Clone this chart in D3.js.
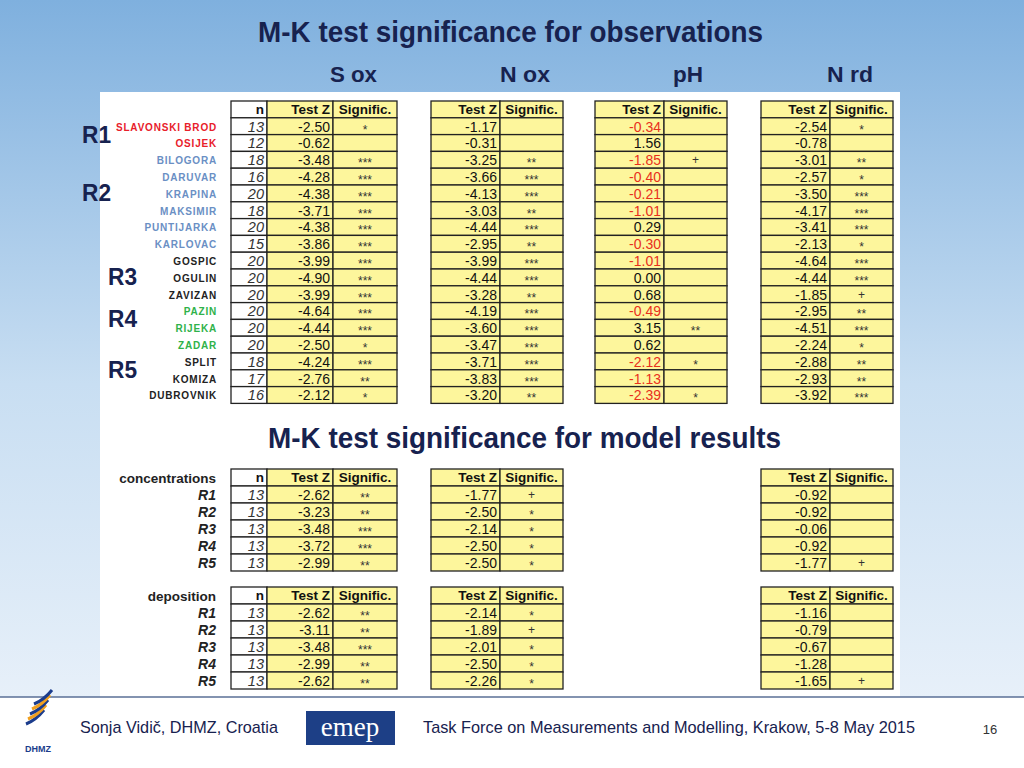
<!DOCTYPE html>
<html><head><meta charset="utf-8">
<script src="https://cdn.jsdelivr.net/npm/d3@7"></script>
<style>body{margin:0;overflow:hidden}</style>
</head><body><div id="vis"></div>
<script>
const stations = ["SLAVONSKI BROD","OSIJEK","BILOGORA","DARUVAR","KRAPINA","MAKSIMIR","PUNTIJARKA","KARLOVAC","GOSPIC","OGULIN","ZAVIZAN","PAZIN","RIJEKA","ZADAR","SPLIT","KOMIZA","DUBROVNIK"];
const stationColor = ["#e8202a","#e8202a","#6a8fc4","#6a8fc4","#6a8fc4","#6a8fc4","#6a8fc4","#6a8fc4","#222","#222","#222","#2fb24a","#2fb24a","#2fb24a","#222","#222","#222"];
const obsN = [13,12,18,16,20,18,20,15,20,20,20,20,20,20,18,17,16];
const soxZ = ["-2.50","-0.62","-3.48","-4.28","-4.38","-3.71","-4.38","-3.86","-3.99","-4.90","-3.99","-4.64","-4.44","-2.50","-4.24","-2.76","-2.12"];
const soxS = ["*","","***","***","***","***","***","***","***","***","***","***","***","*","***","**","*"];
const noxZ = ["-1.17","-0.31","-3.25","-3.66","-4.13","-3.03","-4.44","-2.95","-3.99","-4.44","-3.28","-4.19","-3.60","-3.47","-3.71","-3.83","-3.20"];
const noxS = ["","","**","***","***","**","***","**","***","***","**","***","***","***","***","***","**"];
const phZ = ["-0.34","1.56","-1.85","-0.40","-0.21","-1.01","0.29","-0.30","-1.01","0.00","0.68","-0.49","3.15","0.62","-2.12","-1.13","-2.39"];
const phS = ["","","+","","","","","","","","","","**","","*","","*"];
const nrdZ = ["-2.54","-0.78","-3.01","-2.57","-3.50","-4.17","-3.41","-2.13","-4.64","-4.44","-1.85","-2.95","-4.51","-2.24","-2.88","-2.93","-3.92"];
const nrdS = ["*","","**","*","***","***","***","*","***","***","+","**","***","*","**","**","***"];
const regionLabels = [["R1",0.5],["R2",4],["R3",9],["R4",11.5],["R5",14.5]];

const modelRegions = ["R1","R2","R3","R4","R5"];
const modelN = [13,13,13,13,13];
const concSoxZ = ["-2.62","-3.23","-3.48","-3.72","-2.99"], concSoxS = ["**","**","***","***","**"];
const concNoxZ = ["-1.77","-2.50","-2.14","-2.50","-2.50"], concNoxS = ["+","*","*","*","*"];
const concNrdZ = ["-0.92","-0.92","-0.06","-0.92","-1.77"], concNrdS = ["","","","","+"];
const depSoxZ = ["-2.62","-3.11","-3.48","-2.99","-2.62"], depSoxS = ["**","**","***","**","**"];
const depNoxZ = ["-2.14","-1.89","-2.01","-2.50","-2.26"], depNoxS = ["*","+","*","*","*"];
const depNrdZ = ["-1.16","-0.79","-0.67","-1.28","-1.65"], depNrdS = ["","","","","+"];
const componentNames = ["S ox","N ox","pH","N rd"];

const W = 1024, H = 768;
const navy = "#17224f";
const svg = d3.select("#vis").append("svg").attr("width", W).attr("height", H)
  .style("font-family", "Arial, 'Liberation Sans', sans-serif");

// background sky
const defs = svg.append("defs");
const g1 = defs.append("linearGradient").attr("id","sky").attr("x1",0).attr("y1",0).attr("x2",0).attr("y2",1);
g1.append("stop").attr("offset","0").attr("stop-color","#7fb0de");
g1.append("stop").attr("offset","0.5").attr("stop-color","#c8def2");
g1.append("stop").attr("offset","1").attr("stop-color","#eef4fb");
svg.append("rect").attr("width",W).attr("height",H).attr("fill","url(#sky)");
svg.append("rect").attr("x",100).attr("y",92).attr("width",800).attr("height",605).attr("fill","#fff");
svg.append("rect").attr("x",0).attr("y",697).attr("width",W).attr("height",71).attr("fill","#fff");
svg.append("line").attr("x1",0).attr("x2",W).attr("y1",697).attr("y2",697).attr("stroke","#5a6f96").attr("stroke-width",1.5);

function title(x, y, size, len, txt) {
  svg.append("text").attr("x",x).attr("y",y).attr("font-size",size).attr("font-weight","bold")
    .attr("fill",navy).attr("textLength",len).attr("lengthAdjust","spacingAndGlyphs").text(txt);
}
title(258, 42, 29, 505, "M-K test significance for observations");
title(268, 448, 29, 513, "M-K test significance for model results");
const compX = [330,500,673,827], compW = [47,50,30,46];
componentNames.forEach((c,i) => title(compX[i], 82, 22, compW[i], c));

const yellow = "#fdf69c";
function table(x0, yHead, rowH, zs, ss, ns, zColors) {
  const rows = d3.range(zs.length);
  const y = d3.scaleBand().domain(rows).range([yHead + rowH, yHead + rowH * (zs.length + 1)]);
  const g = svg.append("g");
  const cols = ns ? [[x0,36],[x0+36,66],[x0+102,64]] : [[x0,69],[x0+69,63]];
  const zc = ns ? 1 : 0;
  const hdr = ns ? ["n","Test Z","Signific."] : ["Test Z","Signific."];
  cols.forEach((c,i) => {
    const white = ns && i === 0;
    g.append("rect").attr("x",c[0]).attr("y",yHead).attr("width",c[1]).attr("height",rowH)
      .attr("fill", white ? "#fff" : yellow).attr("stroke","#222").attr("stroke-width",1.3);
    g.append("text").attr("x", i === cols.length-1 ? c[0]+c[1]/2 : c[0]+c[1]-3).attr("y",yHead+rowH-4)
      .attr("text-anchor", i === cols.length-1 ? "middle" : "end")
      .attr("font-size",13.5).attr("font-weight","bold").attr("fill","#111").text(hdr[i]);
    g.selectAll(null).data(rows).join("rect")
      .attr("x",c[0]).attr("y",d => y(d)).attr("width",c[1]).attr("height",y.bandwidth())
      .attr("fill", white ? "#fff" : yellow).attr("stroke","#222").attr("stroke-width",1.3);
  });
  if (ns) g.selectAll(null).data(rows).join("text")
    .attr("x",x0+33).attr("y",d => y(d)+y.bandwidth()-3).attr("text-anchor","end")
    .attr("font-size",14.5).attr("font-style","italic").attr("fill","#333").text(d => ns[d]);
  g.selectAll(null).data(rows).join("text")
    .attr("x",cols[zc][0]+cols[zc][1]-3).attr("y",d => y(d)+y.bandwidth()-3).attr("text-anchor","end")
    .attr("font-size",14).attr("fill",d => zColors ? zColors(d) : "#111").text(d => zs[d]);
  g.selectAll(null).data(rows).join("text")
    .attr("x",cols[zc+1][0]+cols[zc+1][1]/2).attr("y",d => y(d)+y.bandwidth()-(ss[d] === "+" ? 4 : 1)).attr("text-anchor","middle")
    .attr("font-size",12).attr("fill","#333").text(d => ss[d]);
  return y;
}

const yObs = table(231, 101, 16.8, soxZ, soxS, obsN);
table(431, 101, 16.8, noxZ, noxS, null);
table(595, 101, 16.8, phZ, phS, null, d => +phZ[d] < 0 ? "#e8301c" : "#111");
table(761, 101, 16.8, nrdZ, nrdS, null);

svg.selectAll(".st").data(stations).join("text")
  .attr("x",217).attr("y",(d,i) => yObs(i)+yObs.bandwidth()-4).attr("text-anchor","end")
  .attr("font-size",10).attr("font-weight","bold").attr("letter-spacing",0.8)
  .attr("fill",(d,i) => stationColor[i]).text(d => d);
const rx = {R1:82,R2:82,R3:108,R4:108,R5:108};
regionLabels.forEach(([r,i]) => svg.append("text").attr("x",rx[r]).attr("y",yObs(0)+i*yObs.bandwidth()+yObs.bandwidth()/2+8)
  .attr("font-size",24).attr("font-weight","bold").attr("fill",navy)
  .attr("textLength",29).attr("lengthAdjust","spacingAndGlyphs").text(r));

function modelBlock(yHead, label, sz, ss, nz, nS, rz, rS) {
  const y = table(231, yHead, 17, sz, ss, modelN);
  table(431, yHead, 17, nz, nS, null);
  table(761, yHead, 17, rz, rS, null);
  svg.append("text").attr("x",216).attr("y",yHead+14).attr("text-anchor","end")
    .attr("font-size",13.5).attr("font-weight","bold").attr("fill","#222").text(label);
  svg.selectAll(null).data(modelRegions).join("text")
    .attr("x",216).attr("y",(d,i) => y(i)+y.bandwidth()-3).attr("text-anchor","end")
    .attr("font-size",14).attr("font-weight","bold").attr("font-style","italic").attr("fill","#222").text(d => d);
}
modelBlock(469, "concentrations", concSoxZ, concSoxS, concNoxZ, concNoxS, concNrdZ, concNrdS);
modelBlock(587, "deposition", depSoxZ, depSoxS, depNoxZ, depNoxS, depNrdZ, depNrdS);

// footer
const logo = svg.append("g");
[0,1,2,3,4].forEach(i => logo.append("path")
  .attr("d",`M${26+i*2},${724-i*5} q10,-4 18,-14`).attr("fill","none")
  .attr("stroke", i % 2 ? "#f0a020" : "#1b3c8c").attr("stroke-width",3));
logo.append("text").attr("x",38).attr("y",752).attr("text-anchor","middle").attr("font-size",9)
  .attr("font-weight","bold").attr("fill","#1b3c8c").text("DHMZ");
svg.append("text").attr("x",80).attr("y",733).attr("font-size",17).attr("fill",navy)
  .attr("textLength",198).attr("lengthAdjust","spacingAndGlyphs").text("Sonja Vidič, DHMZ, Croatia");
svg.append("rect").attr("x",306).attr("y",711).attr("width",89).attr("height",34).attr("fill","#1d3f86");
svg.append("text").attr("x",350).attr("y",736).attr("text-anchor","middle").attr("font-size",27)
  .attr("fill","#fff").style("font-family","'Liberation Serif', serif").text("emep");
svg.append("text").attr("x",423).attr("y",733).attr("font-size",17).attr("fill",navy)
  .attr("textLength",492).attr("lengthAdjust","spacingAndGlyphs").text("Task Force on Measurements and Modelling, Krakow, 5-8 May 2015");
svg.append("text").attr("x",990).attr("y",734).attr("text-anchor","middle").attr("font-size",13)
  .attr("fill","#333").text("16");
</script></body></html>
